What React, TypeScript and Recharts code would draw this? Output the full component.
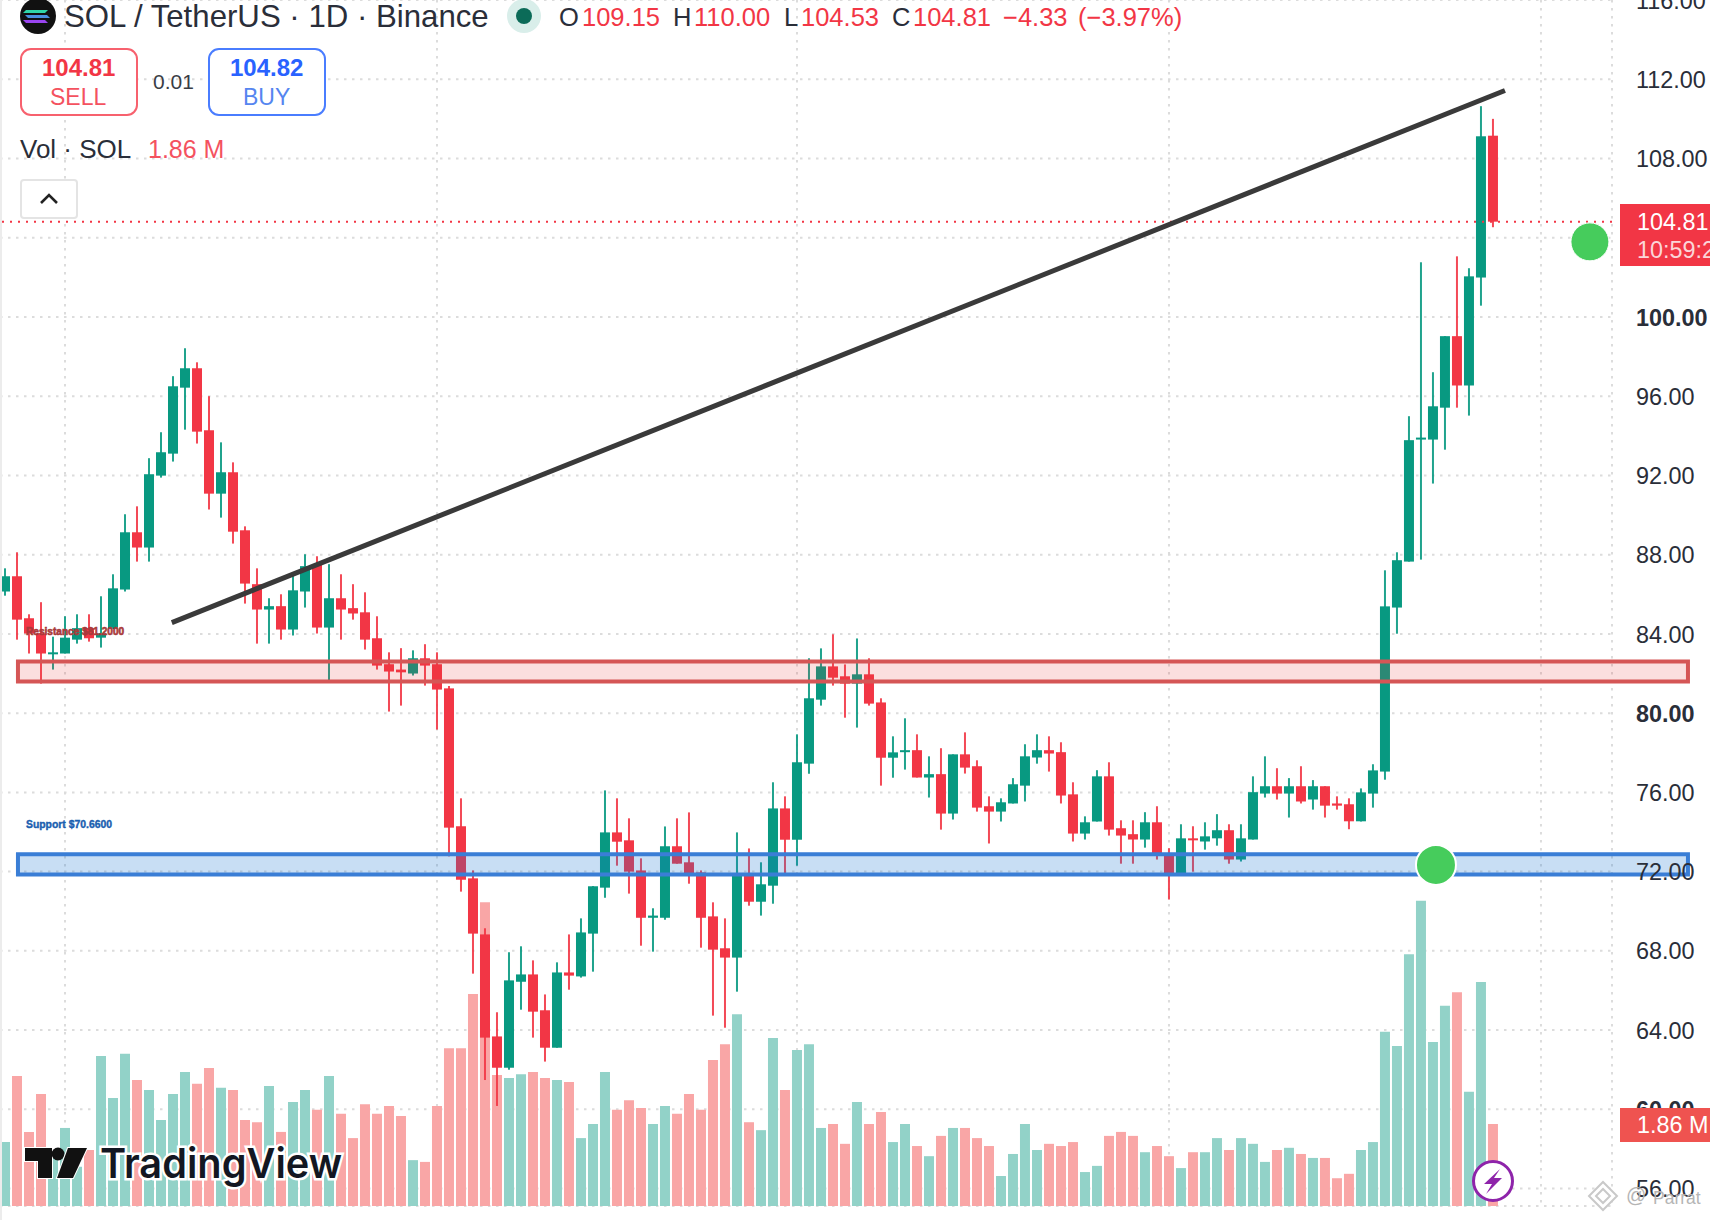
import React from "react";
import {
  Bar,
  CartesianGrid,
  Cell,
  ComposedChart,
  ReferenceArea,
  ReferenceDot,
  ReferenceLine,
  XAxis,
  YAxis,
} from "recharts";

const UP = "#089981";
const DOWN = "#f23645";
const UP_VOL = "#92d2c8";
const DOWN_VOL = "#f9a6a6";
const FONT = "'Liberation Sans', Arial, sans-serif";

// daily candles, oldest first
const opens = [
  86.14, 86.91, 84.79, 84.02, 83.01, 83.01, 83.71, 84.29, 83.81, 84.25, 86.24, 89.13, 88.36, 91.99, 93.1, 96.43, 97.41,
  94.28, 91.08, 92.16, 89.23, 86.51, 85.23, 85.4, 84.22, 86.14, 87.52, 84.32, 85.8, 85.3, 85.09, 83.78, 82.47, 82.2, 82.0,
  82.77, 82.47, 81.25, 74.29, 71.66, 68.83, 63.68, 62.1, 66.44, 66.81, 65.0, 63.11, 66.91, 66.71, 68.87, 71.19, 73.98,
  73.58, 72.06, 69.67, 69.67, 73.28, 72.47, 71.96, 69.74, 68.13, 67.66, 71.86, 70.48, 71.29, 75.19, 73.61, 77.45, 80.68,
  82.36, 81.86, 81.49, 81.96, 80.54, 77.75, 78.06, 78.13, 76.75, 76.92, 74.93, 77.92, 77.32, 75.3, 75.03, 75.44, 76.34,
  77.76, 78.13, 78.03, 75.9, 73.92, 74.53, 76.81, 74.19, 73.89, 73.62, 74.49, 72.83, 71.9, 73.68, 73.52, 73.68, 74.09,
  72.61, 73.62, 75.94, 76.31, 75.94, 76.31, 75.64, 76.31, 75.44, 75.4, 74.54, 75.94, 77.05, 85.33, 87.65, 93.83, 93.81,
  95.42, 99.03, 96.54, 101.99, 109.15,
];
const highs = [
  87.31, 88.12, 84.99, 85.6, 83.86, 84.89, 84.99, 84.99, 85.9, 87.01, 90.04, 90.44, 92.87, 94.18, 97.01, 98.42, 97.71,
  96.0, 93.67, 92.66, 89.43, 87.31, 85.8, 86.0, 87.06, 88.02, 87.92, 87.52, 87.01, 86.51, 86.1, 84.89, 83.07, 83.28, 83.17,
  83.48, 83.07, 81.37, 75.7, 72.06, 69.14, 64.9, 67.93, 68.23, 67.52, 65.8, 67.42, 68.83, 69.64, 71.27, 76.1, 75.7, 74.69,
  72.67, 70.15, 74.28, 74.69, 74.99, 72.06, 70.45, 69.64, 73.98, 73.17, 72.47, 76.51, 75.8, 78.93, 82.77, 83.27, 83.98,
  82.46, 83.77, 82.77, 80.75, 78.83, 79.74, 78.93, 77.82, 78.23, 77.92, 79.03, 77.62, 75.8, 75.7, 76.72, 78.43, 78.93,
  78.83, 78.53, 76.51, 74.79, 77.12, 77.52, 74.59, 74.59, 75.0, 75.3, 73.18, 74.39, 74.29, 74.49, 74.9, 74.39, 74.39,
  76.81, 77.82, 77.22, 76.72, 77.32, 76.62, 76.31, 75.8, 75.7, 76.2, 77.42, 87.21, 88.12, 94.99, 102.76, 97.21, 99.03,
  103.06, 102.46, 110.64, 110.0,
];
const lows = [
  85.93, 83.71, 83.01, 81.49, 82.2, 83.01, 83.51, 83.61, 83.31, 84.25, 86.14, 87.65, 87.65, 91.89, 92.7, 94.31, 93.61,
  90.28, 89.87, 88.56, 85.53, 83.51, 83.51, 83.71, 83.92, 85.33, 84.02, 81.66, 83.71, 84.72, 83.21, 82.2, 80.08, 80.38,
  81.9, 81.39, 79.17, 72.77, 70.99, 66.85, 61.48, 60.17, 62.0, 65.03, 63.62, 62.41, 63.11, 66.04, 66.65, 66.95, 70.68,
  72.3, 70.89, 68.26, 67.96, 69.57, 72.4, 71.39, 68.16, 64.73, 64.12, 65.94, 70.28, 69.78, 70.38, 71.86, 72.3, 76.94,
  80.38, 81.39, 79.77, 79.27, 80.38, 76.34, 76.74, 77.15, 76.75, 75.74, 74.12, 74.63, 76.95, 75.03, 73.42, 74.53, 75.44,
  75.54, 77.45, 77.05, 75.44, 73.52, 73.62, 74.53, 73.82, 72.4, 72.4, 73.21, 72.61, 70.59, 71.9, 72.0, 73.11, 73.31, 72.4,
  72.51, 73.62, 75.74, 75.64, 74.73, 75.44, 75.13, 74.73, 75.13, 74.14, 74.53, 75.23, 76.64, 84.01, 87.65, 87.75, 91.59,
  93.3, 95.42, 95.02, 100.57, 104.53,
];
const closes = [
  86.91, 84.72, 84.02, 83.01, 83.07, 83.81, 84.29, 83.78, 84.03, 86.3, 89.13, 88.36, 92.06, 93.17, 96.5, 97.41, 94.21,
  91.08, 92.16, 89.16, 86.54, 85.23, 85.4, 84.22, 86.2, 87.42, 84.32, 85.8, 85.23, 85.03, 83.71, 82.4, 82.1, 82.06, 82.77,
  82.4, 81.19, 74.22, 71.59, 68.87, 63.62, 62.1, 66.51, 66.81, 64.93, 63.11, 66.91, 66.75, 68.93, 71.26, 73.98, 73.51, 72.0,
  69.67, 69.78, 73.28, 72.4, 71.9, 69.67, 68.06, 67.66, 71.86, 70.48, 71.36, 75.19, 73.61, 77.52, 80.75, 82.36, 81.79,
  81.49, 81.96, 80.48, 77.75, 78.02, 78.13, 76.75, 76.92, 74.93, 77.92, 77.25, 75.23, 75.03, 75.5, 76.41, 77.82, 78.13,
  77.96, 75.84, 73.92, 74.49, 76.81, 74.12, 73.82, 73.62, 74.49, 72.81, 71.9, 73.68, 73.58, 73.78, 74.09, 72.61, 73.68,
  76.01, 76.31, 75.94, 76.31, 75.54, 76.31, 75.33, 75.33, 74.54, 76.0, 77.11, 85.39, 87.72, 93.78, 93.91, 95.49, 99.03,
  96.54, 102.05, 109.12, 104.81,
];
// volume in millions
const volumes = [
  1.45, 2.95, 1.68, 2.54, 1.12, 1.77, 0.89, 1.27, 3.4, 2.45, 3.45, 2.86, 2.63, 1.95, 2.54, 3.04, 2.77, 3.13, 2.68, 2.63,
  1.95, 1.9, 2.72, 1.68, 2.36, 2.63, 2.18, 2.95, 2.09, 1.54, 2.31, 2.09, 2.27, 2.04, 1.04, 1.0, 2.27, 3.58, 3.58, 4.81,
  6.89, 2.97, 2.9, 2.99, 3.04, 2.9, 2.86, 2.81, 1.54, 1.86, 3.04, 2.18, 2.4, 2.22, 1.86, 2.27, 2.09, 2.54, 2.18, 3.31,
  3.67, 4.35, 1.9, 1.72, 3.81, 2.63, 3.54, 3.67, 1.77, 1.86, 1.41, 2.36, 1.86, 2.13, 1.45, 1.86, 1.36, 1.13, 1.59, 1.77,
  1.77, 1.54, 1.36, 0.68, 1.18, 1.86, 1.27, 1.41, 1.36, 1.45, 0.77, 0.91, 1.59, 1.68, 1.59, 1.22, 1.36, 1.13, 0.86, 1.22,
  1.22, 1.54, 1.27, 1.54, 1.41, 1.0, 1.27, 1.32, 1.18, 1.09, 1.09, 0.63, 0.73, 1.27, 1.45, 3.95, 3.63, 5.71, 6.92, 3.72,
  4.54, 4.85, 2.59, 5.08, 1.86,
];

const priceTicks = [56, 60, 64, 68, 72, 76, 80, 84, 88, 92, 96, 100, 104, 108, 112, 116];
const boldTicks = [60, 80, 100];
const monthStarts = [5, 36, 66, 97, 128];
const lastPrice = 104.81;

const data = opens.map((open, day) => ({
  day,
  open,
  high: highs[day],
  low: lows[day],
  close: closes[day],
  volume: volumes[day],
  range: [lows[day], highs[day]],
}));

const dayDomain = [-0.4167, 133.92];
const priceDomain = [55.12, 116];
const volumeDomain = [0, 27.35];

function Candle(props: any) {
  const { x, y, width, height, payload } = props;
  const { open, high, low, close } = payload;
  const perUnit = height / (high - low);
  const color = close >= open ? UP : DOWN;
  const bodyTop = y + (high - Math.max(open, close)) * perUnit;
  const bodyHeight = Math.max(Math.abs(open - close) * perUnit, 2);
  return (
    <g>
      <rect x={x + width / 2 - 1} y={y} width={2} height={height} fill={color} opacity={0.9} />
      <rect x={x} y={bodyTop} width={width} height={bodyHeight} fill={color} />
    </g>
  );
}

function PriceTick(props: any) {
  const { x, y, payload } = props;
  return (
    <text
      x={x}
      y={y}
      dy={8.6}
      fontFamily={FONT}
      fontSize={23.4}
      fill="#2a2e39"
      fontWeight={boldTicks.includes(payload.value) ? 700 : 400}
    >
      {payload.value.toFixed(2)}
    </text>
  );
}

// absolutely placed text, y is the vertical centre
function Txt({ x, y, size, color, bold, stroke, children }: any) {
  return (
    <span
      style={{
        position: "absolute",
        left: x,
        top: y,
        transform: "translateY(-50%)",
        fontFamily: FONT,
        fontSize: size,
        lineHeight: 1,
        color,
        fontWeight: bold ? 700 : 400,
        whiteSpace: "nowrap",
        WebkitTextStroke: stroke,
      }}
    >
      {children}
    </span>
  );
}

function Box({ x, y, w, h, border, radius, background, children }: any) {
  return (
    <div
      style={{
        position: "absolute",
        left: x,
        top: y,
        width: w,
        height: h,
        boxSizing: "border-box",
        border,
        borderRadius: radius,
        background,
      }}
    >
      {children}
    </div>
  );
}

function Header() {
  return (
    <>
      <svg style={{ position: "absolute", left: 0, top: 0 }} width={600} height={40}>
        <circle cx={38} cy={16} r={18} fill="#111" />
        <polygon points="26,10 48,10 45,13 23,13" fill="#2fd6a8" />
        <polygon points="25,15 47,15 50,18 28,18" fill="#4a8fe0" />
        <polygon points="26,23 48,23 45,20 23,20" fill="#9a45f0" />
        <circle cx={524} cy={16} r={17} fill="#d9eeea" />
        <circle cx={524} cy={16} r={8} fill="#0b6b58" />
      </svg>
      <Txt x={64} y={16.5} size={31.2} color="#2a2e39">
        SOL / TetherUS · 1D · Binance
      </Txt>
      <Txt x={559} y={18} size={25.5} color="#2a2e39">O</Txt>
      <Txt x={582} y={18} size={25.5} color={DOWN}>109.15</Txt>
      <Txt x={673} y={18} size={25.5} color="#2a2e39">H</Txt>
      <Txt x={694} y={18} size={25.5} color={DOWN}>110.00</Txt>
      <Txt x={784} y={18} size={25.5} color="#2a2e39">L</Txt>
      <Txt x={801} y={18} size={25.5} color={DOWN}>104.53</Txt>
      <Txt x={892} y={18} size={25.5} color="#2a2e39">C</Txt>
      <Txt x={913} y={18} size={25.5} color={DOWN}>104.81</Txt>
      <Txt x={1003} y={18} size={25.5} color={DOWN}>−4.33</Txt>
      <Txt x={1078} y={18} size={25.5} color={DOWN}>(−3.97%)</Txt>

      <Box x={20} y={48} w={118} h={68} border="2px solid #f7616e" radius={11} background="#fff" />
      <Txt x={42} y={68} size={24} color={DOWN} bold>104.81</Txt>
      <Txt x={50} y={97} size={23} color="#f4525f">SELL</Txt>
      <Txt x={153} y={81} size={21} color="#3a3d45">0.01</Txt>
      <Box x={208} y={48} w={118} h={68} border="2px solid #4a7dff" radius={11} background="#fff" />
      <Txt x={230} y={68} size={24} color="#2962ff" bold>104.82</Txt>
      <Txt x={243} y={97} size={23} color="#5585f0">BUY</Txt>

      <Txt x={20} y={149} size={26} color="#2a2e39">Vol · SOL</Txt>
      <Txt x={148} y={149} size={25} color="#f4525f">1.86 M</Txt>

      <Box x={20} y={179} w={58} h={40} border="2px solid #e4e4e4" radius={4} background="#fff" />
      <svg style={{ position: "absolute", left: 38, top: 191 }} width={22} height={16}>
        <polyline points="3,12 11,4 19,12" fill="none" stroke="#222" strokeWidth={2.6} />
      </svg>
    </>
  );
}

function TradingViewLogo() {
  return (
    <svg style={{ position: "absolute", left: 0, top: 1130 }} width={380} height={70}>
      <path d="M25 18 H52 V48 H38 V31 H25 Z" fill="#111" stroke="#fff" strokeWidth={2} paintOrder="stroke" />
      <circle cx={58} cy={24} r={6.5} fill="#111" />
      <polygon points="68,18 87,18 73,48 57,48" fill="#111" stroke="#fff" strokeWidth={2} paintOrder="stroke" />
      <text
        x={100}
        y={48}
        textLength={242}
        lengthAdjust="spacingAndGlyphs"
        fontFamily="Inter, 'Open Sans', sans-serif"
        fontWeight={600}
        fontSize={41}
        fill="#131722"
        stroke="#fff"
        strokeWidth={5}
        paintOrder="stroke"
      >
        TradingView
      </text>
    </svg>
  );
}

function BottomRight() {
  return (
    <svg style={{ position: "absolute", left: 1460, top: 1140 }} width={250} height={80}>
      <circle cx={33} cy={41} r={19.5} fill="#fff" stroke="#8e24aa" strokeWidth={3} />
      <polygon points="40,29 24,44 32,44 26,54 42,38 34,38" fill="#8e24aa" />
      <g fill="#fff" stroke="#c9c9c9" strokeWidth={2}>
        <polygon points="129,56 143,70 157,56 143,42" />
        <polygon points="136,56 143,63 150,56 143,49" />
      </g>
      <text x={166} y={62} fontFamily={FONT} fontSize={20} fill="#b5b5b5">
        @
      </text>
      <text x={193} y={64} fontFamily={FONT} fontSize={17.5} fill="#b5b5b5">
        Parrat
      </text>
    </svg>
  );
}

export default function App() {
  return (
    <div
      style={{
        position: "absolute",
        left: 0,
        top: 0,
        width: 1710,
        height: 1220,
        overflow: "hidden",
        background: "#fff",
      }}
    >
      <ComposedChart width={1710} height={1220} data={data} margin={{ top: 0, right: 0, bottom: 14, left: 0 }}>
        <XAxis xAxisId="price" dataKey="day" type="number" domain={dayDomain} ticks={monthStarts} interval={0} hide allowDataOverflow />
        <XAxis xAxisId="volume" dataKey="day" type="number" domain={dayDomain} hide allowDataOverflow />
        <YAxis
          yAxisId="price"
          orientation="right"
          width={98}
          domain={priceDomain}
          ticks={priceTicks}
          interval={0}
          allowDataOverflow
          axisLine={false}
          tickLine={false}
          tickSize={0}
          tickMargin={24}
          tick={<PriceTick />}
        />
        <YAxis yAxisId="volume" domain={volumeDomain} hide allowDataOverflow />
        <CartesianGrid
          xAxisId="price"
          yAxisId="price"
          stroke="#dcdcdc"
          strokeWidth={2}
          strokeDasharray="2.5 5.5"
        />
        <Bar xAxisId="volume" yAxisId="volume" dataKey="volume" barSize={10} isAnimationActive={false}>
          {data.map((d) => (
            <Cell key={d.day} fill={d.close >= d.open ? UP_VOL : DOWN_VOL} />
          ))}
        </Bar>
        <Bar xAxisId="price" yAxisId="price" dataKey="range" barSize={10} shape={<Candle />} isAnimationActive={false} />
        <ReferenceLine
          xAxisId="price"
          yAxisId="price"
          y={lastPrice}
          stroke={DOWN}
          strokeWidth={2}
          strokeDasharray="2 6"
        />
        <ReferenceArea
          xAxisId="price"
          yAxisId="price"
          x1={1.08}
          x2={140.25}
          y1={81.6}
          y2={82.61}
          ifOverflow="visible"
          fill="#e53935"
          fillOpacity={0.16}
          stroke="#d55656"
          strokeWidth={4}
          zIndex={700}
        />
        <ReferenceArea
          xAxisId="price"
          yAxisId="price"
          x1={1.08}
          x2={140.25}
          y1={71.85}
          y2={72.88}
          ifOverflow="visible"
          fill="#1976d2"
          fillOpacity={0.24}
          stroke="#3a7ed6"
          strokeWidth={4}
          zIndex={700}
        />
        <ReferenceLine
          xAxisId="price"
          yAxisId="price"
          segment={[
            { x: 13.9, y: 84.57 },
            { x: 125, y: 111.43 },
          ]}
          stroke="#3a3a3a"
          strokeWidth={5}
          zIndex={800}
        />
        <ReferenceDot
          xAxisId="price"
          yAxisId="price"
          x={119.25}
          y={72.34}
          r={20}
          fill="#46cc5c"
          stroke="#fff"
          strokeWidth={2}
          ifOverflow="visible"
          zIndex={900}
        />
        <ReferenceDot
          xAxisId="price"
          yAxisId="price"
          x={132.08}
          y={103.79}
          r={19}
          fill="#46cc5c"
          stroke="#fff"
          strokeWidth={1}
          ifOverflow="visible"
          zIndex={900}
        />
      </ComposedChart>

      <Box x={0} y={0} w={2} h={1220} background="#ececec" />
      <Header />
      <Txt x={26} y={632} size={10.1} color="#a93a3a" bold stroke="0.6px #a93a3a">Resistance $81.2000</Txt>
      <Txt x={26} y={825} size={10.4} color="#1a5fb0" bold stroke="0.4px #1a5fb0">Support $70.6600</Txt>

      <Box x={1620} y={204} w={90} h={62} background={DOWN} />
      <Txt x={1637} y={222.5} size={23.4} color="#fff">104.81</Txt>
      <Txt x={1637} y={250.5} size={23.4} color="#fbd5d8">10:59:2</Txt>
      <Box x={1620} y={1108} w={90} h={34} background="#ef5350" />
      <Txt x={1637} y={1126} size={23.4} color="#fff">1.86 M</Txt>

      <TradingViewLogo />
      <BottomRight />
    </div>
  );
}
